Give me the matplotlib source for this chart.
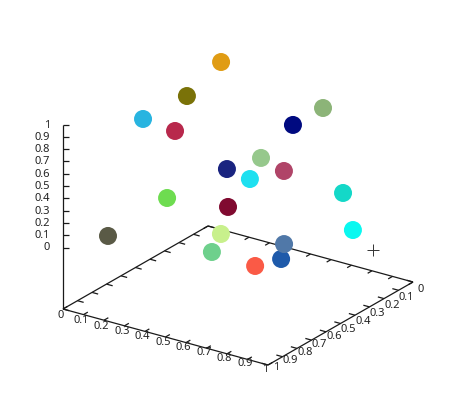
import matplotlib
matplotlib.use("Agg")
import matplotlib.pyplot as plt
import numpy as np

# Point values in plot units (x, y, z)
x_vals = [.126, .103, .0905, .1235, .691, .728, .3725, .492, .435, .572,
          .200, .382, .479, .539, .812, .822, .852, .965, .963, .153]
y_vals = [.088, .291, .576, .402, .391, .236, .396, .330, .326, .285,
          .565, .402, .588, .735, .823, .658, .680, .433, .362, .906]
z_vals = [.95, .8, .8, .6, .9, .95, .4, .5, .3, .4,
          .2, .1, .05, .03, .1, .05, .2, .5, .15, .1]
colors = ['#E09C14', '#7A7208', '#28B4E0', '#B8284C', '#000A80', '#8CB478',
          '#1A2480', '#96C88C', '#1EE0F0', '#B04468', '#6EDC50', '#800A30',
          '#C8F08C', '#6ED08C', '#FA5A46', '#1E5AAA', '#5078A8', '#14D8C8',
          '#0AF8F0', '#5A5A46']
tick_vals = [0, .1, .2, .3, .4, .5, .6, .7, .8, .9, 1]
tick_labels = ['0', '0.1', '0.2', '0.3', '0.4', '0.5', '0.6', '0.7', '0.8', '0.9', '1']
z_labels = ['0', '0.1', '0.2', '0.3', '0.4', '0.5', '0.6', '0.7', '0.8', '0.9', '1']
Z_BASE = -0.5


def proj(x, y, z):
    x, y, z = map(np.asarray, (x, y, z))
    return 208 + 205 * x - 145 * y, 226 + 56 * x + 83 * y - 123 * (z - Z_BASE)


fig = plt.figure(figsize=(4.74, 4.2), dpi=100)
ax = fig.add_axes([0, 0, 1, 1])
ax.set_xlim(0, 474)
ax.set_ylim(420, 0)
ax.axis('off')
lw = 0.9
ink = '#1a1a1a'
font = dict(family='Noto Sans', fontsize=8, color='#222222', ha='center', va='center')


def seg(a, b):
    px, py = proj(*zip(a, b))
    ax.plot(px, py, color=ink, lw=lw, solid_capstyle='butt', zorder=1)


# base parallelogram
for a, b in [((0, 0), (1, 0)), ((1, 0), (1, 1)), ((1, 1), (0, 1)), ((0, 1), (0, 0))]:
    seg((*a, Z_BASE), (*b, Z_BASE))
seg((0, 1, Z_BASE), (0, 1, 1))

tl = 0.03
for t, lab in zip(tick_vals, tick_labels):
    # x ticks, with mirror
    seg((t, 1, Z_BASE), (t, 1 - tl, Z_BASE))
    seg((t, 0, Z_BASE), (t, tl, Z_BASE))
    # y ticks, with mirror
    seg((1, t, Z_BASE), (1 - tl, t, Z_BASE))
    seg((0, t, Z_BASE), (tl, t, Z_BASE))
    px, py = proj(t, 1, Z_BASE)
    ax.text(px - 2.5, py + 6.3 - 2.3 * t, lab, **font)
    px, py = proj(1, t, Z_BASE)
    ax.text(px + 8, py + 8 - 5 * t, lab, **font)

for t, lab in zip(tick_vals, z_labels):
    px, py = proj(0, 1, t)
    ax.plot([px, px + 6], [py, py], color=ink, lw=lw, solid_capstyle='butt', zorder=1)
    ax.text(px - 13, py + 0.5, lab, **{**font, 'ha': 'right'})

px, py = proj(x_vals, y_vals, z_vals)
ax.scatter(px, py, s=168, c=colors, linewidths=0, zorder=3)

# mouse crosshair left in the screenshot
ax.plot([373], [250], marker='+', ms=8.6, mew=0.7, color='#333333', zorder=2)

fig.savefig('out.png', dpi=100, facecolor='white')
